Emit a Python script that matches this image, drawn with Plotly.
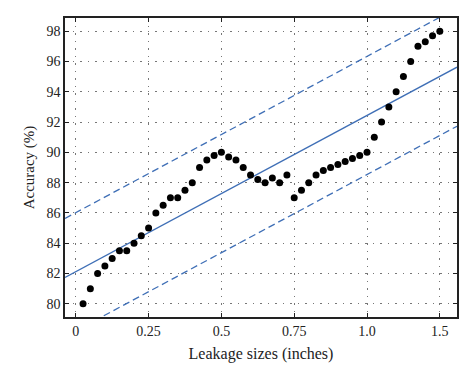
import numpy as np
import plotly.graph_objects as go

# Data
leak_pos = [0.025 * i for i in range(1, 51)]  # axis positions of the points
accuracy = [80, 81, 82, 82.5, 83, 83.5, 83.5, 84, 84.5, 85,
            86, 86.5, 87, 87, 87.5, 88, 89, 89.5, 89.8, 90,
            89.7, 89.5, 89, 88.5, 88.2, 88, 88.3, 88, 88.5, 87,
            87.5, 88, 88.5, 88.8, 89, 89.2, 89.4, 89.6, 89.8, 90,
            91, 92, 93, 94, 95, 96, 97, 97.3, 97.7, 98]
x_tickvals = [0, 0.25, 0.5, 0.75, 1.0, 1.25]
x_ticktext = ["0", "0.25", "0.5", "0.75", "1.0", "1.5"]
y_tickvals = [80, 82, 84, 86, 88, 90, 92, 94, 96, 98]
band_halfwidth = 3.9
x_range = [-0.037, 1.309]
y_range = [79.13, 98.87]

slope, intercept = np.polyfit(leak_pos, accuracy, 1)
xl = np.array(x_range)
fit = slope * xl + intercept

blue = "#3f6fb6"
font_family = "Liberation Serif, Times New Roman, serif"

fig = go.Figure()
fig.add_trace(go.Scatter(x=xl, y=fit + band_halfwidth, mode="lines",
                         line=dict(color=blue, width=1.3, dash="7px,4px"), showlegend=False))
fig.add_trace(go.Scatter(x=xl, y=fit - band_halfwidth, mode="lines",
                         line=dict(color=blue, width=1.3, dash="7px,4px"), showlegend=False))
fig.add_trace(go.Scatter(x=xl, y=fit, mode="lines",
                         line=dict(color=blue, width=1.4), showlegend=False))
fig.add_trace(go.Scatter(x=leak_pos, y=accuracy, mode="markers",
                         marker=dict(color="black", size=7), showlegend=False))

axis_common = dict(
    showline=True, linecolor="#222", linewidth=1.5, mirror="ticks",
    ticks="inside", ticklen=4, tickcolor="#222",
    showgrid=True, gridcolor="#777", griddash="1.5px,6px", gridwidth=1,
    zeroline=False,
    tickfont=dict(family=font_family, size=14, color="#222"),
)

fig.update_xaxes(range=x_range, tickvals=x_tickvals, ticktext=x_ticktext,
                 title=dict(text="Leakage sizes (inches)",
                            font=dict(family=font_family, size=16, color="#222"),
                            standoff=10),
                 **axis_common)
fig.update_yaxes(range=y_range, tickvals=y_tickvals,
                 title=dict(text="Accuracy (%)",
                            font=dict(family=font_family, size=15, color="#222"),
                            standoff=8),
                 **axis_common)

fig.update_layout(
    width=466, height=375,
    margin=dict(l=57, r=17, t=8, b=66),
    paper_bgcolor="white", plot_bgcolor="white",
)

fig.write_html("out.html")
